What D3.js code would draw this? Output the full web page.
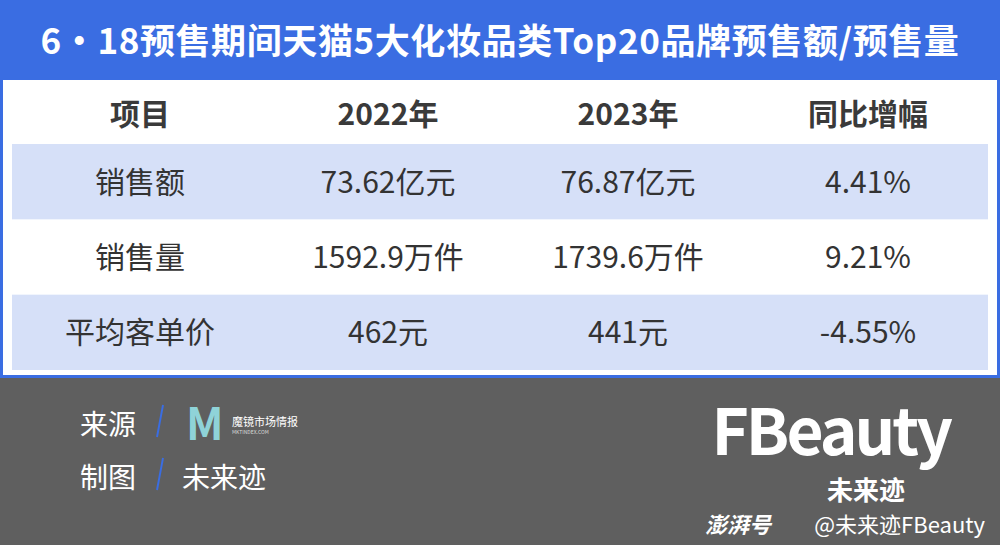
<!DOCTYPE html><html><head><meta charset="utf-8"><script src="https://cdn.jsdelivr.net/npm/d3@7"></script>
<style>body{margin:0;background:#fff}text{font-family:"Noto Sans CJK SC",sans-serif}</style></head><body><svg id="c" width="1000" height="545"></svg>
<script>
const title="6·18预售期间天猫5大化妆品类Top20品牌预售额/预售量";
const headers=["项目","2022年","2023年","同比增幅"];
const items=["销售额","销售量","平均客单价"];
const v2022=["73.62亿元","1592.9万件","462元"];
const v2023=["76.87亿元","1739.6万件","441元"];
const growth=["4.41%","9.21%","-4.55%"];
const svg=d3.select("#c");
svg.append("rect").attr("width",1000).attr("height",80).attr("fill","#3a6de2");
svg.append("text").attr("x",500).attr("y",54).attr("text-anchor","middle").attr("fill","#fff").attr("font-size",35).attr("font-weight","bold").attr("letter-spacing",0.6).text(title);
svg.append("rect").attr("x",0).attr("y",80).attr("width",3).attr("height",298).attr("fill","#3a6de2");
svg.append("rect").attr("x",997).attr("y",80).attr("width",3).attr("height",298).attr("fill","#3a6de2");
svg.append("rect").attr("x",0).attr("y",375).attr("width",1000).attr("height",3).attr("fill","#3a6de2");
const cx=[140,388,628,868];
const y=d3.scaleBand().domain(items).range([144,370]);
svg.selectAll(".band").data(items.filter((d,i)=>i%2==0)).join("rect").attr("x",12).attr("width",976).attr("y",d=>y(d)).attr("height",y.bandwidth()).attr("fill","#d6e0f8");
svg.selectAll(".h").data(headers).join("text").attr("x",(d,i)=>cx[i]).attr("y",125).attr("text-anchor","middle").attr("font-size",30).attr("font-weight","bold").attr("fill","#3a3a3a").text(d=>d);
const cols=[items,v2022,v2023,growth];
cols.forEach((col,ci)=>{svg.selectAll(".c"+ci).data(col).join("text").attr("x",cx[ci]).attr("y",(d,i)=>y(items[i])+y.bandwidth()/2+11).attr("text-anchor","middle").attr("font-size",30).attr("fill","#333").text(d=>d);});
svg.append("rect").attr("y",378).attr("width",1000).attr("height",167).attr("fill","#5f5f5f");
const ft=[["来源",425],["制图",478]];
ft.forEach(([t,yy])=>{svg.append("text").attr("x",80).attr("y",yy+10).attr("font-size",28).attr("font-family","Noto Serif CJK SC,serif").attr("fill","#fff").text(t);
svg.append("line").attr("x1",157).attr("x2",163).attr("y1",yy+12).attr("y2",yy-20).attr("stroke","#3a6de2").attr("stroke-width",2);});
svg.append("text").attr("x",182).attr("y",488).attr("font-size",28).attr("fill","#fff").text("未来迹");
svg.append("text").attr("x",186).attr("y",440).attr("font-size",44).attr("font-weight","bold").attr("fill","#8fd3d8").text("M");
svg.append("text").attr("x",232).attr("y",426).attr("font-size",11).attr("fill","#fff").text("魔镜市场情报");
svg.append("text").attr("x",232).attr("y",434).attr("font-size",5).attr("fill","#ddd").text("MKTINDEX.COM");
svg.append("text").attr("x",950).attr("y",455).attr("text-anchor","end").attr("font-size",64).attr("font-weight","bold").attr("font-family","Roboto,sans-serif").attr("letter-spacing",-3).attr("fill","#fff").text("FBeauty");
svg.append("text").attr("x",905).attr("y",500).attr("text-anchor","end").attr("font-size",26).attr("font-weight","bold").attr("fill","#fff").text("未来迹");
svg.append("text").attr("x",705).attr("y",533).attr("font-size",22).attr("font-weight","bold").attr("font-style","italic").attr("fill","#fff").text("澎湃号");
svg.append("text").attr("x",985).attr("y",533).attr("text-anchor","end").attr("font-size",22).attr("fill","#fff").text("@未来迹FBeauty");
</script></body></html>
